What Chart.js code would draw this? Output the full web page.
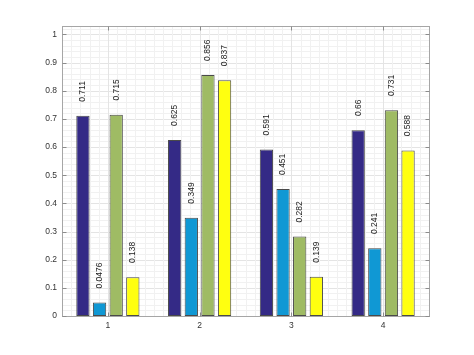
<!DOCTYPE html>
<html>
<head>
<meta charset="utf-8">
<script src="https://cdn.jsdelivr.net/npm/chart.js@4/dist/chart.umd.min.js"></script>
<style>
html,body{margin:0;padding:0;background:#fff;}
canvas{display:block;}
</style>
</head>
<body>
<canvas id="c" width="474" height="355"></canvas>
<script>
const categories = ["1", "2", "3", "4"];
const series1 = [0.711, 0.625, 0.591, 0.66];
const series2 = [0.0476, 0.349, 0.451, 0.241];
const series3 = [0.715, 0.856, 0.282, 0.731];
const series4 = [0.138, 0.837, 0.139, 0.588];
const yTickValues = [0, 0.1, 0.2, 0.3, 0.4, 0.5, 0.6, 0.7, 0.8, 0.9, 1];

const colors = ["#342a86", "#1098d4", "#9fbb64", "#ffff10"];
const FONT = "Liberation Sans, Arial, sans-serif";

const gridBoxPlugin = {
  id: "gridBox",
  beforeDraw(chart) {
    const ctx = chart.ctx;
    ctx.save();
    ctx.fillStyle = "#ffffff";
    ctx.fillRect(0, 0, chart.width, chart.height);
    ctx.restore();
  },
  beforeDatasetsDraw(chart) {
    const ctx = chart.ctx, a = chart.chartArea;
    const ys = chart.scales.y, xs = chart.scales.x;
    ctx.save();
    ctx.lineWidth = 1;
    for (let i = 0; i <= 51; i++) {
      const v = i * 0.02;
      const py = Math.round(ys.getPixelForValue(v)) + 0.5;
      if (py < a.top) continue;
      ctx.strokeStyle = (i % 5 === 0) ? "#e4e4e4" : "#f1f1f1";
      ctx.beginPath(); ctx.moveTo(a.left, py); ctx.lineTo(a.right, py); ctx.stroke();
    }
    const step = xs.getPixelForValue(1) - xs.getPixelForValue(0);
    const x0 = xs.getPixelForValue(0) - step / 2;
    for (let i = 0; i <= 40; i++) {
      const px = Math.round(x0 + i * step / 10) + 0.5;
      ctx.strokeStyle = (i % 10 === 5) ? "#e4e4e4" : "#f1f1f1";
      ctx.beginPath(); ctx.moveTo(px, a.top); ctx.lineTo(px, a.bottom); ctx.stroke();
    }
    ctx.restore();
  },
  afterDatasetsDraw(chart) {
    const ctx = chart.ctx, a = chart.chartArea;
    const ys = chart.scales.y, xs = chart.scales.x;
    ctx.save();
    ctx.fillStyle = "#222222";
    ctx.font = "8.5px " + FONT;
    ctx.textAlign = "left";
    ctx.textBaseline = "middle";
    chart.data.datasets.forEach((ds, di) => {
      const meta = chart.getDatasetMeta(di);
      meta.data.forEach((bar, j) => {
        const v = ds.data[j];
        const py = ys.getPixelForValue(v + 0.05);
        ctx.save();
        ctx.translate(bar.x, py);
        ctx.rotate(-Math.PI / 2);
        ctx.fillText(String(v), 0, 0);
        ctx.restore();
      });
    });
    ctx.strokeStyle = "#a6a6a6";
    ctx.lineWidth = 1;
    const L = Math.round(a.left) + 0.5, R = Math.round(a.right) + 0.5;
    const T = Math.round(a.top) + 0.5, B = Math.round(a.bottom) + 0.5;
    ctx.strokeRect(L, T, R - L, B - T);
    ctx.strokeStyle = "#8c8c8c";
    yTickValues.forEach(v => {
      const py = Math.round(ys.getPixelForValue(v)) + 0.5;
      ctx.beginPath();
      ctx.moveTo(L, py); ctx.lineTo(L + 4, py);
      ctx.moveTo(R, py); ctx.lineTo(R - 4, py);
      ctx.stroke();
    });
    categories.forEach((c, i) => {
      const px = Math.round(xs.getPixelForValue(i)) + 0.5;
      ctx.beginPath();
      ctx.moveTo(px, B); ctx.lineTo(px, B - 4);
      ctx.moveTo(px, T); ctx.lineTo(px, T + 4);
      ctx.stroke();
    });
    ctx.restore();
  }
};

const seriesList = [series1, series2, series3, series4];
new Chart(document.getElementById("c"), {
  type: "bar",
  data: {
    labels: categories,
    datasets: seriesList.map((s, i) => ({
      label: "S" + (i + 1),
      data: s,
      backgroundColor: colors[i],
      borderColor: "#4a4a4a",
      borderWidth: 1,
      borderSkipped: false,
      categoryPercentage: 0.725,
      barPercentage: 0.8
    }))
  },
  options: {
    responsive: false,
    animation: false,
    devicePixelRatio: 1,
    layout: { padding: { left: 0, top: 26, right: 45, bottom: 0 } },
    plugins: { legend: { display: false }, tooltip: { enabled: false } },
    scales: {
      x: {
        type: "category",
        grid: { display: false, drawTicks: false },
        border: { display: false },
        ticks: { color: "#333333", font: { family: FONT, size: 8.5 }, padding: 5, maxRotation: 0 },
        afterFit(s) { s.height = 39; }
      },
      y: {
        type: "linear",
        min: 0,
        max: 1.03,
        grid: { display: false, drawTicks: false },
        border: { display: false },
        ticks: {
          stepSize: 0.1,
          includeBounds: false,
          color: "#333333",
          font: { family: FONT, size: 8.5 },
          padding: 5,
          callback: (v) => String(Number(v.toFixed(2)))
        },
        afterFit(s) { s.width = 62; }
      }
    }
  },
  plugins: [gridBoxPlugin]
});
</script>
</body>
</html>
